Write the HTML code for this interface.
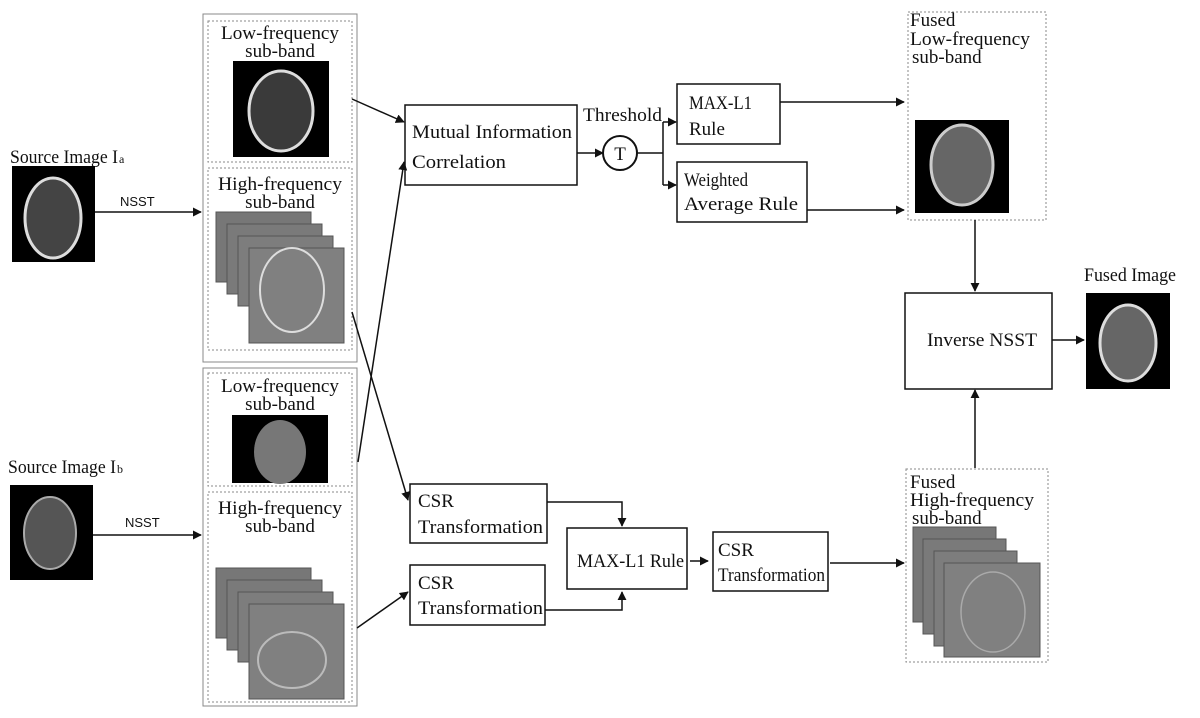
<!DOCTYPE html>
<html><head><meta charset="utf-8"><style>
html,body{margin:0;padding:0;background:#fff;}
svg{display:block;}
text{font-family:"Liberation Serif",serif;fill:#111;}
</style></head><body>
<svg width="1200" height="718" viewBox="0 0 1200 718" xmlns="http://www.w3.org/2000/svg">
<defs>
<marker id="a" viewBox="0 0 10 10" refX="9" refY="5" markerWidth="9" markerHeight="9" orient="auto" markerUnits="userSpaceOnUse"><path d="M0,0 L10,5 L0,10 z" fill="#111"/></marker>
<g id="gstack">
<rect x="0" y="0" width="95" height="70" fill="#777" stroke="#555"/>
<rect x="11" y="12" width="95" height="70" fill="#7a7a7a" stroke="#555"/>
<rect x="22" y="24" width="95" height="70" fill="#7d7d7d" stroke="#555"/>
<rect x="33" y="36" width="95" height="95" fill="#808080" stroke="#555"/>
</g>
</defs>
<text x="10" y="163" font-size="19" textLength="108" lengthAdjust="spacingAndGlyphs">Source Image I</text><text x="119" y="163" font-size="12">a</text>
<rect x="12" y="166" width="83" height="96" fill="#000"/>
<ellipse cx="53" cy="218" rx="28" ry="40" fill="#444" stroke="#ddd" stroke-width="3"/>
<text x="120" y="206" font-size="13" style="font-family:'Liberation Sans',sans-serif">NSST</text>
<line x1="95" y1="212" x2="201" y2="212" stroke="#111" stroke-width="1.5" marker-end="url(#a)"/>

<text x="8" y="473" font-size="19" textLength="108" lengthAdjust="spacingAndGlyphs">Source Image I</text><text x="117" y="473" font-size="12">b</text>
<rect x="10" y="485" width="83" height="95" fill="#000"/>
<ellipse cx="50" cy="533" rx="26" ry="36" fill="#555" stroke="#aaa" stroke-width="2"/>
<text x="125" y="527" font-size="13" style="font-family:'Liberation Sans',sans-serif">NSST</text>
<line x1="93" y1="535" x2="201" y2="535" stroke="#111" stroke-width="1.5" marker-end="url(#a)"/>

<!-- upper panel -->
<rect x="203" y="14" width="154" height="348" fill="none" stroke="#888" stroke-width="1"/>
<rect x="208" y="21" width="144" height="141" fill="none" stroke="#888" stroke-dasharray="2,2"/>
<text x="280" y="39" font-size="19" text-anchor="middle" textLength="118" lengthAdjust="spacingAndGlyphs">Low-frequency</text>
<text x="280" y="57" font-size="19" text-anchor="middle">sub-band</text>
<rect x="233" y="61" width="96" height="96" fill="#000"/>
<ellipse cx="281" cy="111" rx="32" ry="40" fill="#3a3a3a" stroke="#ddd" stroke-width="3"/>
<rect x="208" y="168" width="144" height="182" fill="none" stroke="#888" stroke-dasharray="2,2"/>
<text x="280" y="190" font-size="19" text-anchor="middle" textLength="124" lengthAdjust="spacingAndGlyphs">High-frequency</text>
<text x="280" y="208" font-size="19" text-anchor="middle">sub-band</text>
<use href="#gstack" x="216" y="212"/>
<ellipse cx="292" cy="290" rx="32" ry="42" fill="none" stroke="#ddd" stroke-width="2"/>

<!-- lower panel -->
<rect x="203" y="368" width="154" height="338" fill="none" stroke="#888" stroke-width="1"/>
<rect x="208" y="373" width="144" height="113" fill="none" stroke="#888" stroke-dasharray="2,2"/>
<text x="280" y="392" font-size="19" text-anchor="middle" textLength="118" lengthAdjust="spacingAndGlyphs">Low-frequency</text>
<text x="280" y="410" font-size="19" text-anchor="middle">sub-band</text>
<rect x="232" y="415" width="96" height="68" fill="#000"/>
<ellipse cx="280" cy="452" rx="26" ry="32" fill="#777"/>
<rect x="208" y="492" width="144" height="210" fill="none" stroke="#888" stroke-dasharray="2,2"/>
<text x="280" y="514" font-size="19" text-anchor="middle" textLength="124" lengthAdjust="spacingAndGlyphs">High-frequency</text>
<text x="280" y="532" font-size="19" text-anchor="middle">sub-band</text>
<use href="#gstack" x="216" y="568"/>
<ellipse cx="292" cy="660" rx="34" ry="28" fill="none" stroke="#bbb" stroke-width="2"/>

<!-- MIC -->
<rect x="405" y="105" width="172" height="80" fill="#fff" stroke="#111" stroke-width="1.5"/>
<text x="412" y="138" font-size="19" textLength="160" lengthAdjust="spacingAndGlyphs">Mutual Information</text>
<text x="412" y="168" font-size="19" textLength="94" lengthAdjust="spacingAndGlyphs">Correlation</text>
<line x1="352" y1="99" x2="404" y2="122" stroke="#111" stroke-width="1.5" marker-end="url(#a)"/>
<line x1="358" y1="462" x2="404" y2="162" stroke="#111" stroke-width="1.5" marker-end="url(#a)"/>
<line x1="352" y1="312" x2="408" y2="500" stroke="#111" stroke-width="1.5" marker-end="url(#a)"/>
<line x1="357" y1="628" x2="408" y2="592" stroke="#111" stroke-width="1.5" marker-end="url(#a)"/>

<text x="583" y="121" font-size="19" textLength="79" lengthAdjust="spacingAndGlyphs">Threshold</text>
<line x1="577" y1="153" x2="603" y2="153" stroke="#111" stroke-width="1.5" marker-end="url(#a)"/>
<circle cx="620" cy="153" r="17" fill="#fff" stroke="#111" stroke-width="2"/>
<text x="620" y="160" font-size="19" text-anchor="middle">T</text>
<polyline points="637,153 663,153" stroke="#111" stroke-width="1.5" fill="none"/>
<polyline points="663,122 663,185" stroke="#111" stroke-width="1.5" fill="none"/>
<line x1="663" y1="122" x2="676" y2="122" stroke="#111" stroke-width="1.5" marker-end="url(#a)"/>
<line x1="663" y1="185" x2="676" y2="185" stroke="#111" stroke-width="1.5" marker-end="url(#a)"/>
<rect x="677" y="84" width="103" height="60" fill="#fff" stroke="#111" stroke-width="1.5"/>
<text x="689" y="109" font-size="19" textLength="63" lengthAdjust="spacingAndGlyphs">MAX-L1</text>
<text x="689" y="135" font-size="19">Rule</text>
<rect x="677" y="162" width="130" height="60" fill="#fff" stroke="#111" stroke-width="1.5"/>
<text x="684" y="186" font-size="19" textLength="64" lengthAdjust="spacingAndGlyphs">Weighted</text>
<text x="684" y="210" font-size="19" textLength="114" lengthAdjust="spacingAndGlyphs">Average Rule</text>
<line x1="780" y1="102" x2="904" y2="102" stroke="#111" stroke-width="1.5" marker-end="url(#a)"/>
<line x1="807" y1="210" x2="904" y2="210" stroke="#111" stroke-width="1.5" marker-end="url(#a)"/>

<!-- fused low -->
<rect x="908" y="12" width="138" height="208" fill="none" stroke="#888" stroke-dasharray="2,2"/>
<text x="910" y="26" font-size="19">Fused</text>
<text x="910" y="45" font-size="19" textLength="120" lengthAdjust="spacingAndGlyphs">Low-frequency</text>
<text x="912" y="63" font-size="19">sub-band</text>
<rect x="915" y="120" width="94" height="93" fill="#000"/>
<ellipse cx="962" cy="165" rx="31" ry="40" fill="#666" stroke="#ccc" stroke-width="3"/>
<line x1="975" y1="220" x2="975" y2="291" stroke="#111" stroke-width="1.5" marker-end="url(#a)"/>

<rect x="905" y="293" width="147" height="96" fill="#fff" stroke="#111" stroke-width="1.5"/>
<text x="927" y="346" font-size="19" textLength="110" lengthAdjust="spacingAndGlyphs">Inverse  NSST</text>
<line x1="1052" y1="340" x2="1084" y2="340" stroke="#111" stroke-width="1.5" marker-end="url(#a)"/>
<text x="1084" y="281" font-size="19" textLength="92" lengthAdjust="spacingAndGlyphs">Fused Image</text>
<rect x="1086" y="293" width="84" height="96" fill="#000"/>
<ellipse cx="1128" cy="343" rx="28" ry="38" fill="#666" stroke="#ddd" stroke-width="3"/>
<line x1="975" y1="468" x2="975" y2="390" stroke="#111" stroke-width="1.5" marker-end="url(#a)"/>

<!-- fused high -->
<rect x="906" y="469" width="142" height="193" fill="none" stroke="#888" stroke-dasharray="2,2"/>
<text x="910" y="488" font-size="19">Fused</text>
<text x="910" y="506" font-size="19" textLength="124" lengthAdjust="spacingAndGlyphs">High-frequency</text>
<text x="912" y="524" font-size="19">sub-band</text>
<g transform="translate(913,527)">
<rect x="0" y="0" width="83" height="95" fill="#777" stroke="#555"/>
<rect x="10" y="12" width="83" height="95" fill="#7a7a7a" stroke="#555"/>
<rect x="21" y="24" width="83" height="95" fill="#7d7d7d" stroke="#555"/>
<rect x="31" y="36" width="96" height="94" fill="#808080" stroke="#555"/>
<ellipse cx="80" cy="85" rx="32" ry="40" fill="none" stroke="#aaa" stroke-width="1.5"/>
</g>

<!-- CSR -->
<rect x="410" y="484" width="137" height="59" fill="#fff" stroke="#111" stroke-width="1.5"/>
<text x="418" y="507" font-size="19">CSR</text>
<text x="418" y="533" font-size="19" textLength="125" lengthAdjust="spacingAndGlyphs">Transformation</text>
<rect x="410" y="565" width="135" height="60" fill="#fff" stroke="#111" stroke-width="1.5"/>
<text x="418" y="589" font-size="19">CSR</text>
<text x="418" y="614" font-size="19" textLength="125" lengthAdjust="spacingAndGlyphs">Transformation</text>
<polyline points="547,502 622,502 622,526" stroke="#111" stroke-width="1.5" fill="none" marker-end="url(#a)"/>
<polyline points="545,610 622,610 622,592" stroke="#111" stroke-width="1.5" fill="none" marker-end="url(#a)"/>
<rect x="567" y="528" width="120" height="61" fill="#fff" stroke="#111" stroke-width="1.5"/>
<text x="577" y="567" font-size="19" textLength="107" lengthAdjust="spacingAndGlyphs">MAX-L1 Rule</text>
<line x1="690" y1="561" x2="708" y2="561" stroke="#111" stroke-width="1.5" marker-end="url(#a)"/>
<rect x="713" y="532" width="115" height="59" fill="#fff" stroke="#111" stroke-width="1.5"/>
<text x="718" y="556" font-size="19">CSR</text>
<text x="718" y="581" font-size="19" textLength="107" lengthAdjust="spacingAndGlyphs">Transformation</text>
<line x1="830" y1="563" x2="904" y2="563" stroke="#111" stroke-width="1.5" marker-end="url(#a)"/>
</svg>
</body></html>
